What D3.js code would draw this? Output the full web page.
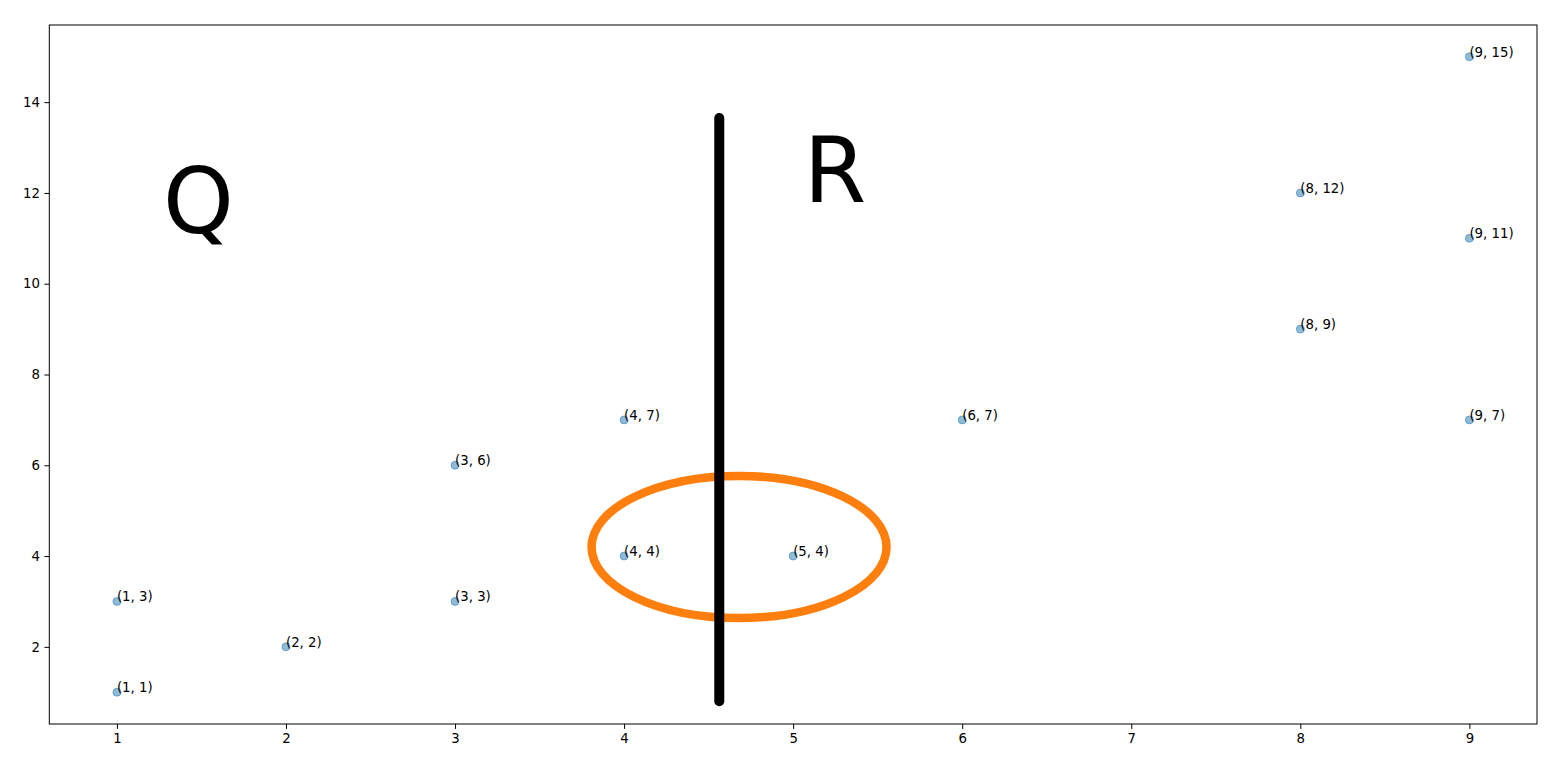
<!DOCTYPE html>
<html>
<head>
<meta charset="utf-8">
<script src="https://cdn.jsdelivr.net/npm/d3@7"></script>
<style>
  body { margin: 0; background: #fff; }
  svg text { font-family: "DejaVu Sans", sans-serif; }
  .tick text { font-size: 13.3px; fill: #000; }
  .tick line { stroke: #000; }
</style>
</head>
<body>
<div class="chart"></div>
<script>
// scatter points
var xs = [1, 1, 2, 3, 3, 4, 4, 5, 6, 8, 8, 9, 9, 9];
var ys = [1, 3, 2, 3, 6, 4, 7, 4, 7, 9, 12, 7, 11, 15];

var xTicks = [1, 2, 3, 4, 5, 6, 7, 8, 9];
var yTicks = [2, 4, 6, 8, 10, 12, 14];

// divider line and ellipse (data units)
var divider = [[4.563, 0.8], [4.563, 13.65]];
var ellipse = { cx: 4.68, cy: 4.2, w: 1.745, h: 3.13 };

// big letters
var letters = [
  { text: "Q", x: 1.273, y: 11.12 },
  { text: "R", x: 5.063, y: 11.81 }
];

var width = 1552, height = 757;
var margin = { top: 25, right: 15, bottom: 33, left: 49.3 };

var svg = d3.select(".chart").append("svg")
  .attr("width", width)
  .attr("height", height);

var x = d3.scaleLinear()
  .domain([0.6, 9.4])
  .range([margin.left, width - margin.right]);

var y = d3.scaleLinear()
  .domain([0.3, 15.7])
  .range([height - margin.bottom, margin.top]);

svg.append("g")
  .attr("transform", "translate(0," + (height - margin.bottom) + ")")
  .call(d3.axisBottom(x).tickValues(xTicks).tickSize(4.9).tickPadding(4.5).tickFormat(d3.format("d")))
  .call(function(g) { g.select(".domain").remove(); });

svg.append("g")
  .attr("transform", "translate(" + margin.left + ",0)")
  .call(d3.axisLeft(y).tickValues(yTicks).tickSize(4.9).tickPadding(4.5).tickFormat(d3.format("d")))
  .call(function(g) { g.select(".domain").remove(); });

var pts = xs.map(function(d, i) { return [d, ys[i]]; });

svg.selectAll("circle.pt")
  .data(pts)
  .enter().append("circle")
  .attr("class", "pt")
  .attr("cx", function(d) { return x(d[0]); })
  .attr("cy", function(d) { return y(d[1]); })
  .attr("r", 4)
  .attr("fill", "#1f77b4")
  .attr("fill-opacity", 0.5)
  .attr("stroke", "#1f77b4")
  .attr("stroke-opacity", 0.5)
  .attr("stroke-width", 1);

svg.selectAll("text.lbl")
  .data(pts)
  .enter().append("text")
  .attr("class", "lbl")
  .attr("x", function(d) { return x(d[0]); })
  .attr("y", function(d) { return y(d[1]); })
  .attr("font-size", "13.3px")
  .text(function(d) { return "(" + d[0] + ", " + d[1] + ")"; });

svg.append("ellipse")
  .attr("cx", x(ellipse.cx))
  .attr("cy", y(ellipse.cy))
  .attr("rx", x(ellipse.cx + ellipse.w / 2) - x(ellipse.cx))
  .attr("ry", y(ellipse.cy) - y(ellipse.cy + ellipse.h / 2))
  .attr("fill", "none")
  .attr("stroke", "#ff7f0e")
  .attr("stroke-width", 8.5);

svg.append("line")
  .attr("x1", x(divider[0][0]))
  .attr("y1", y(divider[0][1]))
  .attr("x2", x(divider[1][0]))
  .attr("y2", y(divider[1][1]))
  .attr("stroke", "#000")
  .attr("stroke-width", 10)
  .attr("stroke-linecap", "round");

svg.selectAll("text.big")
  .data(letters)
  .enter().append("text")
  .attr("class", "big")
  .attr("x", function(d) { return x(d.x); })
  .attr("y", function(d) { return y(d.y); })
  .attr("font-size", "90px")
  .text(function(d) { return d.text; });

svg.append("rect")
  .attr("x", margin.left)
  .attr("y", margin.top)
  .attr("width", width - margin.left - margin.right)
  .attr("height", height - margin.top - margin.bottom)
  .attr("fill", "none")
  .attr("stroke", "#000")
  .attr("stroke-width", 1);
</script>
</body>
</html>
